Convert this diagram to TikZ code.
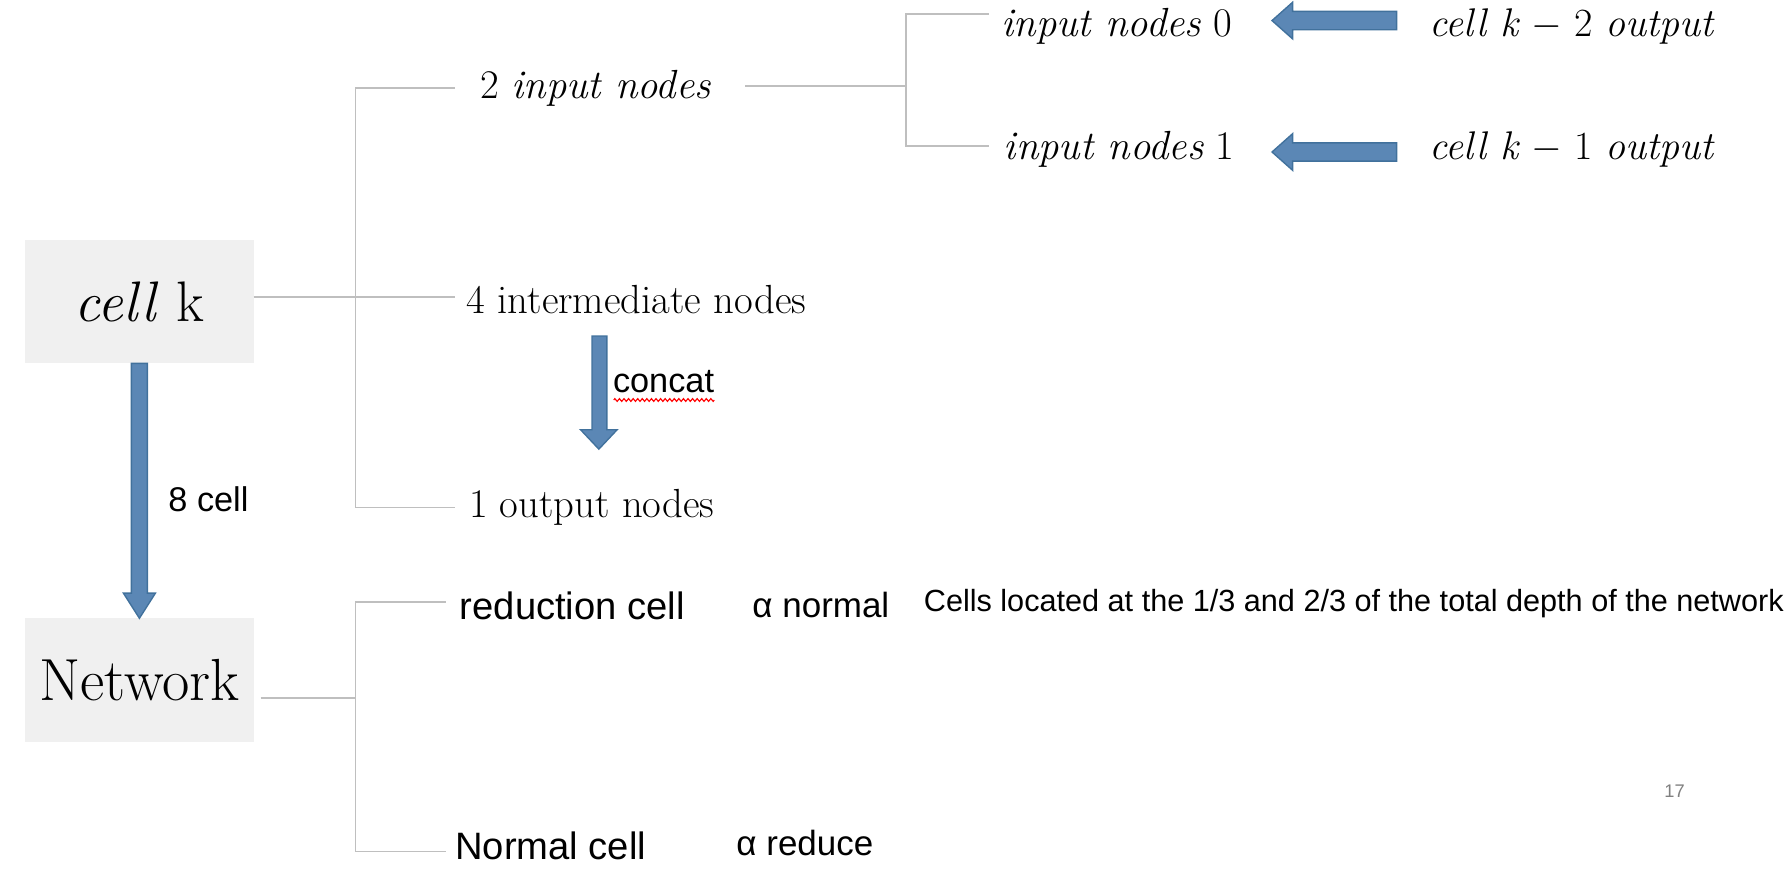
\documentclass[tikz,border=0pt]{standalone}
\usepackage{fontspec}
\newfontfamily\arial{Liberation Sans}
\usetikzlibrary{shapes.arrows,decorations.pathmorphing}
\definecolor{boxg}{HTML}{F0F0F0}
\definecolor{lineg}{HTML}{BFBFBF}
\definecolor{arrf}{HTML}{5B87B5}
\definecolor{arrd}{HTML}{41719C}
\begin{document}
\begin{tikzpicture}[x=0.5pt,y=-0.5pt,
  box/.style={fill=boxg,draw=none},
  tree/.style={draw=lineg,line width=0.8pt},
  cam/.style={inner sep=0pt,anchor=west,font=\fontsize{17.8}{20}\selectfont},
  ar/.style={inner sep=0pt,anchor=west,font=\arial\fontsize{16.7}{19}\selectfont},
  blk/.style={fill=arrf,draw=arrd,line width=0.6pt}]
\useasboundingbox (0,0) rectangle (1568,760);
% boxes
\node[box,minimum width=100pt,minimum height=54pt] (ck) at (122,264) {\fontsize{25}{28}\selectfont\textit{cell} k};
\node[box,minimum width=100pt,minimum height=54pt] (nw) at (122,595) {\fontsize{26}{29}\selectfont Network};
% big down arrow
\draw[blk] (115,318) -- (129,318) -- (129,519) -- (136,519) -- (122,541) -- (108,519) -- (115,519) -- cycle;
\node[ar,font=\arial\fontsize{15}{17}\selectfont] (eight) at (147,437) {8 cell};
% cell tree
\node[cam] (in2) at (420,77) {2 \textit{input nodes}};
\node[cam] (inter) at (408,262) {4 intermediate nodes};
\node[cam] (out1) at (410,444) {1 output nodes};
\draw[tree] (222,260) -- (398,260);
\draw[tree] (398,77) -- (311,77) -- (311,444) -- (398,444);
% input tree
\node[cam] (i0) at (876,23) {\textit{input nodes} 0};
\node[cam] (i1) at (878,131) {\textit{input nodes} 1};
\draw[tree] (652,75) -- (793,75);
\draw[tree] (865,12) -- (793,12) -- (793,128) -- (865,128);
% left arrows
\foreach \yy in {18,133}{
\draw[blk] (1222,\yy-8) -- (1131,\yy-8) -- (1131,\yy-16) -- (1113,\yy) -- (1131,\yy+16) -- (1131,\yy+8) -- (1222,\yy+8) -- cycle;}
\node[cam,font=\fontsize{17.5}{20}\selectfont] (c2) at (1250,23) {\textit{cell k} $-$ 2 \textit{output}};
\node[cam,font=\fontsize{17.5}{20}\selectfont] (c1) at (1250,131) {\textit{cell k} $-$ 1 \textit{output}};
% concat arrow
\draw[blk] (518,294) -- (531,294) -- (531,376) -- (540,376) -- (524,393) -- (508,376) -- (518,376) -- cycle;
\node[ar,font=\arial\fontsize{15}{17}\selectfont] (cc) at (536,334) {concat};
\draw[red,line width=0.5pt,decorate,decoration={zigzag,amplitude=0.6pt,segment length=2pt}] (537,350) -- (625,350);
% network tree
\draw[tree] (228,611) -- (311,611);
\draw[tree] (390,527) -- (311,527) -- (311,745) -- (390,745);
\node[ar] (rc) at (402,530) {reduction cell};
\node[ar,font=\arial\fontsize{15.3}{18}\selectfont] (an) at (658,529) {α normal};
\node[ar,font=\arial\fontsize{13.4}{16}\selectfont] (cl) at (808,528) {Cells located at the 1/3 and 2/3 of the total depth of the network};
\node[ar] (nc) at (398,740) {Normal cell};
\node[ar,font=\arial\fontsize{15.3}{18}\selectfont] (ar2) at (644,738) {α reduce};
\node[ar,font=\arial\fontsize{8}{10}\selectfont,text=gray] (pg) at (1456,692) {17};
\end{tikzpicture}
\end{document}
